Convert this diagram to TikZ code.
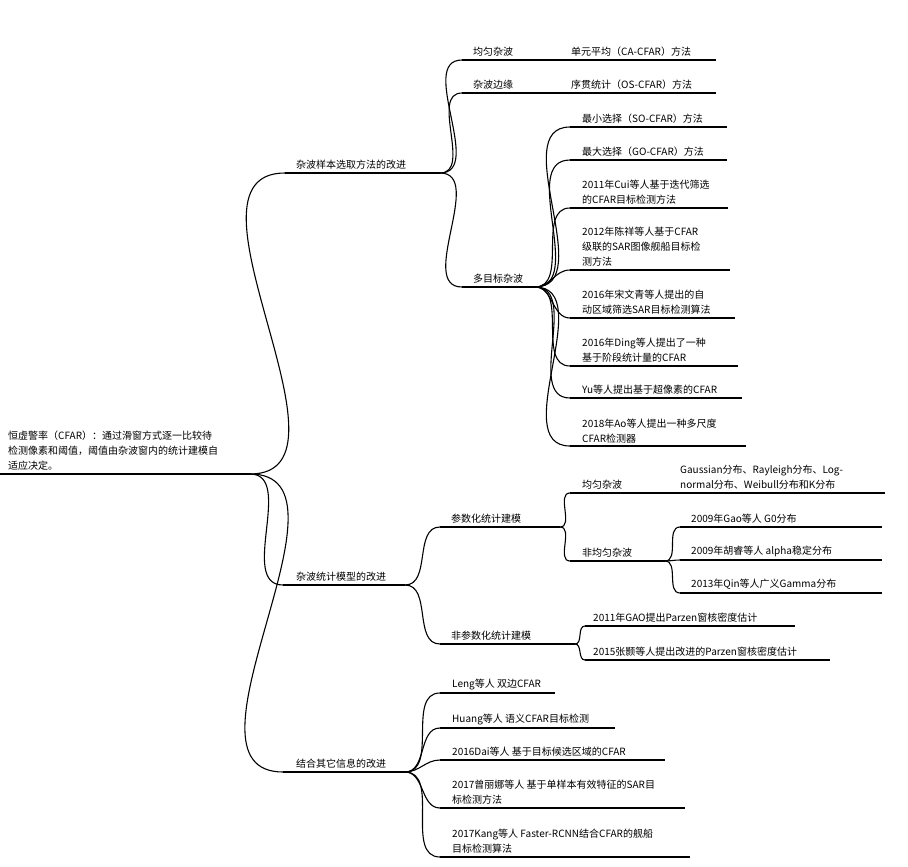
\documentclass[tikz,border=0pt]{standalone}
\usepackage{fontspec}
\setmainfont{Noto Sans CJK SC}
\usetikzlibrary{positioning}

% one branch of the map: name, left end, right end, underline y, text x, text
\newcommand{\mnode}[6]{%
  \coordinate (#1-l) at (#2,#4);
  \coordinate (#1-r) at (#3,#4);
  \node (#1) at (#5,#4-3) {#6};
  \draw[uline] (#1-l) -- (#1-r);}

\begin{document}
\begin{tikzpicture}[x=1pt, y=-1pt,
every node/.style={
    anchor=south west,
    inner sep=0pt,
    align=left,
    font=\fontsize{10}{15}\selectfont
},
uline/.style={line width=1.1pt},
link/.style={line width=1.1pt, out=0, in=180}]

  \useasboundingbox (0,0) rectangle (908,867);

  % root
  \mnode{root}{0}{250}{474}{8}{恒虚警率（CFAR）：通过滑窗方式逐一比较待\\检测像素和阈值，阈值由杂波窗内的统计建模自\\适应决定。}

  % first level
  \mnode{samp}{285}{440}{173}{296}{杂波样本选取方法的改进}
  \mnode{stat}{283}{405}{585}{296}{杂波统计模型的改进}
  \mnode{info}{283}{405}{772}{296}{结合其它信息的改进}

  % sample selection
  \mnode{homo}{462}{545}{60}{473}{均匀杂波}
  \mnode{ca}{545}{716}{60}{571}{单元平均（CA-CFAR）方法}
  \mnode{edge}{462}{545}{93}{473}{杂波边缘}
  \mnode{os}{545}{716}{93}{571}{序贯统计（OS-CFAR）方法}
  \mnode{multi}{462}{535}{287}{473}{多目标杂波}
  \mnode{so}{570}{727}{127}{582}{最小选择（SO-CFAR）方法}
  \mnode{go}{570}{727}{160}{582}{最大选择（GO-CFAR）方法}
  \mnode{cui}{570}{728}{208}{582}{2011年Cui等人基于迭代筛选\\的CFAR目标检测方法}
  \mnode{chen}{570}{730}{270}{582}{2012年陈祥等人基于CFAR\\级联的SAR图像舰船目标检\\测方法}
  \mnode{song}{570}{735}{318}{582}{2016年宋文青等人提出的自\\动区域筛选SAR目标检测算法}
  \mnode{ding}{570}{738}{366}{582}{2016年Ding等人提出了一种\\基于阶段统计量的CFAR}
  \mnode{yu}{570}{742}{398}{582}{Yu等人提出基于超像素的CFAR}
  \mnode{ao}{570}{746}{446}{582}{2018年Ao等人提出一种多尺度\\CFAR检测器}

  % statistical model
  \mnode{para}{440}{560}{527}{451}{参数化统计建模}
  \mnode{phomo}{570}{660}{493}{582}{均匀杂波}
  \mnode{dist}{660}{885}{493}{680}{Gaussian分布、Rayleigh分布、Log-\\normal分布、Weibull分布和K分布}
  \mnode{inhomo}{570}{665}{561}{582}{非均匀杂波}
  \mnode{gao}{680}{882}{527}{691}{2009年Gao等人 G0分布}
  \mnode{hu}{680}{882}{560}{691}{2009年胡睿等人 alpha稳定分布}
  \mnode{qin}{680}{882}{593}{691}{2013年Qin等人广义Gamma分布}
  \mnode{nonpara}{440}{575}{644}{451}{非参数化统计建模}
  \mnode{parzen}{585}{795}{626}{593}{2011年GAO提出Parzen窗核密度估计}
  \mnode{zhang}{585}{830}{660}{593}{2015张颢等人提出改进的Parzen窗核密度估计}

  % other information
  \mnode{leng}{440}{555}{693}{452}{Leng等人 双边CFAR}
  \mnode{huang}{440}{615}{728}{452}{Huang等人 语义CFAR目标检测}
  \mnode{dai}{440}{665}{760}{452}{2016Dai等人 基于目标候选区域的CFAR}
  \mnode{zeng}{440}{685}{808}{452}{2017曾丽娜等人 基于单样本有效特征的SAR目\\标检测方法}
  \mnode{kang}{440}{690}{857}{452}{2017Kang等人 Faster-RCNN结合CFAR的舰船\\目标检测算法}

  \foreach \a/\b in {root/samp, root/stat, root/info,
      samp/homo, samp/edge, samp/multi, homo/ca, edge/os,
      multi/so, multi/go, multi/cui, multi/chen, multi/song,
      multi/ding, multi/yu, multi/ao,
      stat/para, stat/nonpara, para/phomo, para/inhomo, phomo/dist,
      inhomo/gao, inhomo/hu, inhomo/qin, nonpara/parzen, nonpara/zhang,
      info/leng, info/huang, info/dai, info/zeng, info/kang}
    \draw[link] (\a-r) to (\b-l);

\end{tikzpicture}
\end{document}
